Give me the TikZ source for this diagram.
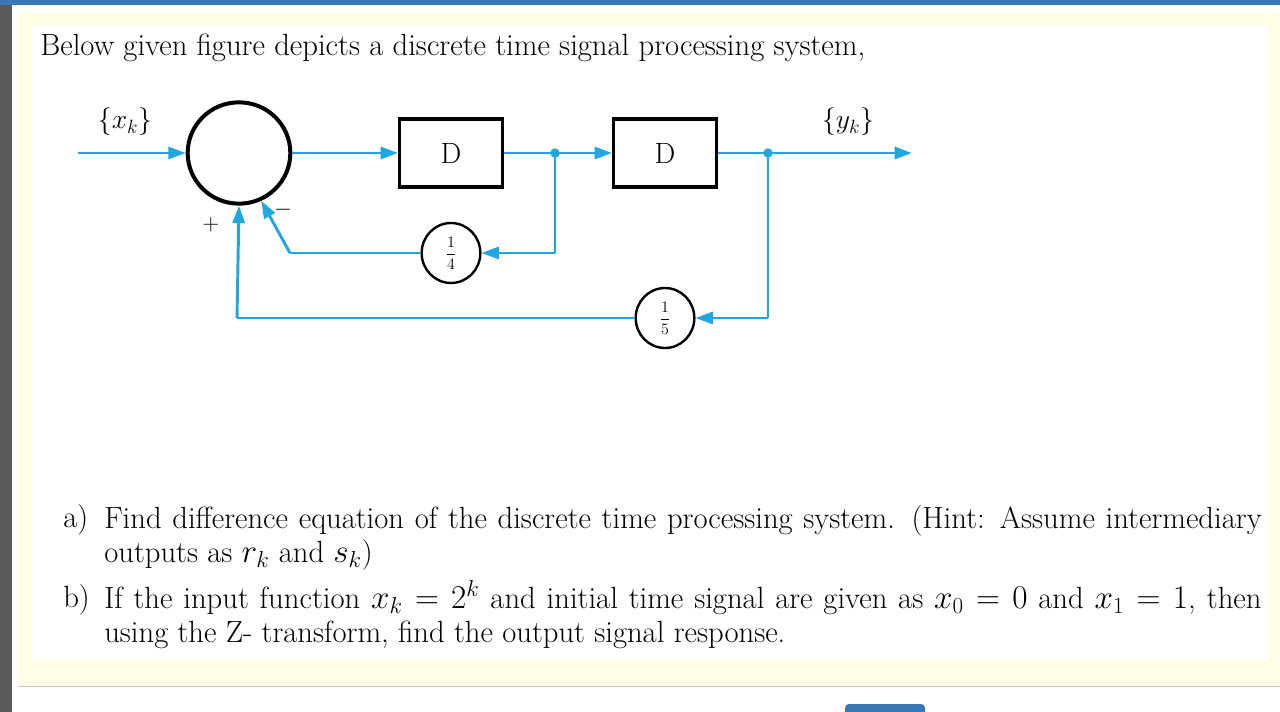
\documentclass[tikz,border=0pt]{standalone}
\usetikzlibrary{arrows.meta,shapes.geometric}
\definecolor{sig}{HTML}{1EA7E1}
\definecolor{cream}{HTML}{FFFDE6}
\definecolor{topbar}{HTML}{3A78B5}
\definecolor{sidebar}{HTML}{5A5A5A}
\begin{document}
\begin{tikzpicture}[x=0.75pt,y=-0.75pt,
  wire/.style={sig,line width=2.2pt},
  arr/.style={wire,-{Triangle[length=13pt,width=9pt]}},
  blk/.style={draw,line width=2.6pt,minimum width=77pt,minimum height=51pt,inner sep=0pt,font=\fontsize{22}{24}\selectfont},
  gain/.style={draw,line width=1.8pt,ellipse,minimum width=44pt,minimum height=45pt,inner sep=0pt,font=\fontsize{13}{14}\selectfont},
  dot/.style={circle,fill=sig,inner sep=0pt,minimum size=7pt},
  lab/.style={font=\fontsize{21}{24}\selectfont},
  body/.style={font=\fontsize{23}{25.5}\selectfont}]
\useasboundingbox (0,0) rectangle (1280,712);
\fill[white] (0,0) rectangle (1280,712);
\fill[cream] (18,12) rectangle (1280,686);
\draw[gray!40] (18,686) -- (1280,686);
\fill[white] (32,26) rectangle (1268,660);
\fill[sidebar] (0,0) rectangle (12,712);
\fill[topbar] (0,0) rectangle (1280,5);
\fill[topbar,rounded corners=3pt] (845,704) rectangle (925,716);
\node[body,anchor=base west,inner sep=0pt] (title) at (40,56) {Below given figure depicts a discrete time signal processing system,};
% diagram
\node[draw,line width=3pt,ellipse,minimum width=77pt,minimum height=76pt] (sum) at (239,153) {};
\node[blk] (d1) at (451,153) {D};
\node[blk] (d2) at (665,153) {D};
\node[gain] (g4) at (451,253) {$\displaystyle\frac14$};
\node[gain] (g5) at (665,318) {$\displaystyle\frac15$};
\coordinate (in) at (78,153);
\coordinate (out) at (912,153);
\node[dot] (j1) at (555,153) {};
\node[dot] (j2) at (768,153) {};
\coordinate (c1) at (555,253);
\coordinate (c2) at (768,318);
\coordinate (b1) at (290,253);
\coordinate (b2) at (237,318);
\draw[arr] (in) -- (sum.west);
\draw[arr] (sum.east) -- (d1.west);
\draw[wire] (d1.east) -- (j1.center);
\draw[arr] (j1.center) -- (d2.west);
\draw[wire] (d2.east) -- (j2.center);
\draw[arr] (j2.center) -- (out);
\draw[wire] (j1.center) -- (c1);
\draw[arr] (c1) -- (g4.east);
\draw[wire] (g4.west) -- (b1);
\draw[arr] (b1) -- (sum.295);
\draw[wire] (j2.center) -- (c2);
\draw[arr] (c2) -- (g5.east);
\draw[wire] (g5.west) -- (b2);
\draw[arr] (b2) -- (sum.south);
\node[lab] (xl) at (125,122) {$\{x_k\}$};
\node[lab] (yl) at (848,122) {$\{y_k\}$};
\node[font=\fontsize{17}{18}\selectfont] (pl) at (211,225) {$+$};
\node[font=\fontsize{17}{18}\selectfont] (ml) at (283,210) {$-$};
% questions
\node[body,anchor=base west,inner sep=0pt] (qa) at (63,527) {a)};
\node[body,anchor=north west,text width=868pt,align=justify,inner sep=0pt] (ta) at (104,505)
 {Find difference equation of the discrete time processing system. (Hint: Assume intermediary outputs as $r_k$ and $s_k$)};
\node[body,anchor=base west,inner sep=0pt] (qb) at (63,607) {b)};
\node[body,anchor=north west,text width=868pt,align=justify,inner sep=0pt] (tb) at (104,580)
 {If the input function $x_k = 2^k$ and initial time signal are given as $x_0 = 0$ and $x_1 = 1$, then using the Z- transform, find the output signal response.};
\end{tikzpicture}
\end{document}
